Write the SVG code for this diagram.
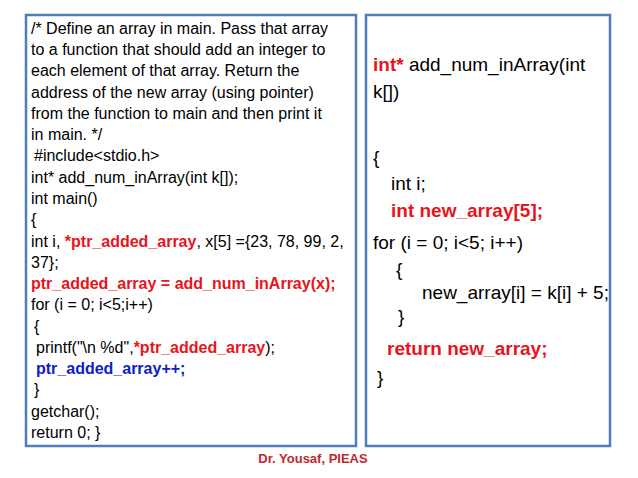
<svg xmlns="http://www.w3.org/2000/svg" width="638" height="478" viewBox="0 0 638 478">
<style>
.b{fill:#fff;stroke:#4f7cba;stroke-width:2.5}
text{font-family:"Liberation Sans",Arial,sans-serif;fill:#000}
.l{font-size:16px}
.r{font-size:19px}
.red{fill:#e8141c;font-weight:bold}
.blue{fill:#1020c8;font-weight:bold}
</style>
<rect width="638" height="478" fill="#fff"/>
<g id="left">
<rect class="b" x="26" y="15" width="330" height="431"/>
<text class="l" x="31" y="34">/* Define an array in main. Pass that array</text>
<text class="l" x="31" y="55">to a function that should add an integer to</text>
<text class="l" x="31" y="76">each element of that array. Return the</text>
<text class="l" x="31" y="98">address of the new array (using pointer)</text>
<text class="l" x="31" y="119">from the function to main and then print it</text>
<text class="l" x="31" y="140">in main. */</text>
<text class="l" x="34" y="161">#include&lt;stdio.h&gt;</text>
<text class="l" x="31" y="183">int* add_num_inArray(int k[]);</text>
<text class="l" x="31" y="204">int main()</text>
<text class="l" x="31" y="225">{</text>
<text class="l" x="31" y="247">int i, <tspan class="red">*ptr_added_array</tspan>, x[5] ={23, 78, 99, 2,</text>
<text class="l" x="31" y="268">37};</text>
<text class="l red" x="31" y="289">ptr_added_array = add_num_inArray(x);</text>
<text class="l" x="31" y="310">for (i = 0; i&lt;5;i++)</text>
<text class="l" x="34" y="332">{</text>
<text class="l" x="36" y="353">printf("\n %d",<tspan class="red">*ptr_added_array</tspan>);</text>
<text class="l blue" x="36" y="374">ptr_added_array++;</text>
<text class="l" x="34" y="395">}</text>
<text class="l" x="31" y="417">getchar();</text>
<text class="l" x="31" y="438">return 0; }</text>
</g>
<g id="right">
<rect class="b" x="366" y="15" width="244" height="431"/>
<text class="r" x="373" y="71"><tspan class="red">int*</tspan> add_num_inArray(int</text>
<text class="r" x="373" y="98">k[])</text>
<text class="r" x="373" y="164">{</text>
<text class="r" x="391" y="190">int i;</text>
<text class="r red" x="391" y="217">int new_array[5];</text>
<text class="r" x="373" y="249">for (i = 0; i&lt;5; i++)</text>
<text class="r" x="396" y="276">{</text>
<text class="r" x="422" y="299">new_array[i] = k[i] + 5;</text>
<text class="r" x="398" y="323">}</text>
<text class="r red" x="387" y="355">return new_array;</text>
<text class="r" x="377" y="384">}</text>
</g>
<text x="313" y="463" text-anchor="middle" style="font-size:13px;font-weight:bold;fill:#c0282c">Dr. Yousaf, PIEAS</text>
</svg>
